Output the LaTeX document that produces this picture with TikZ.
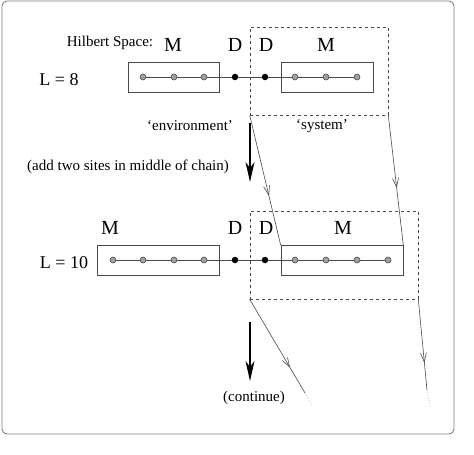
\documentclass[tikz,border=0pt]{standalone}
\usepackage{fontspec}
\setmainfont{Liberation Serif}
\usepackage{tikz}
\usetikzlibrary{arrows.meta,positioning,backgrounds,decorations.markings}
\definecolor{linegray}{HTML}{4A4A4A}
\definecolor{sitegray}{HTML}{A0A0A0}

\begin{document}
\begin{tikzpicture}[x=1pt,y=-1pt,
    box/.style={draw=linegray, line width=0.6pt, minimum width=#1, minimum height=30pt, inner sep=0pt},
    sysbox/.style={draw=linegray, line width=0.6pt, dashed, minimum width=#1, minimum height=88pt, inner sep=0pt},
    site/.style={circle, draw=linegray, line width=0.6pt, fill=sitegray, minimum size=6pt, inner sep=0pt},
    dsite/.style={circle, fill=black, minimum size=6.5pt, inner sep=0pt},
    lbl/.style={font=\fontsize{15}{18}\selectfont, inner sep=0pt},
    big/.style={font=\fontsize{20}{24}\selectfont, inner sep=0pt},
    lval/.style={font=\fontsize{18}{22}\selectfont, inner sep=0pt},
    grow/.style={draw=linegray, line width=0.6pt, decoration={markings, mark=at position #1 with {\arrow{Straight Barb[length=9pt,width=6pt]}}}, postaction={decorate}},
    step arrow/.style={line width=1.6pt, -{Stealth[length=20pt,width=9pt,inset=6pt]}},
    fade/.style={draw=sitegray, line width=0.6pt, dotted}]

  \useasboundingbox (0,0) rectangle (474,455);
  % Frame
  \draw[draw=gray, line width=0.9pt, rounded corners=5pt] (2,1) rectangle (454,434);

  % L = 8
  \node[lbl] (hs) at (110,43) {Hilbert Space:};
  \node[big] (m8l) at (173,45) {M};
  \node[big] (d8l) at (235,45) {D};
  \node[big] (d8r) at (266,45) {D};
  \node[big] (m8r) at (326,45) {M};
  \node[lval] (l8) at (59,80) {L = 8};
  \node[sysbox=138pt] (sys8) at (319,71) {};
  \node[box=91pt] (env8) at (173.5,77) {};
  \node[box=92pt] (blk8) at (327,77) {};
  \node[site] (a1) at (143,77) {}; \node[site] (a2) at (174,77) {}; \node[site] (a3) at (204,77) {};
  \node[dsite] (a4) at (235,77) {}; \node[dsite] (a5) at (265,77) {};
  \node[site] (a6) at (295,77) {}; \node[site] (a7) at (326,77) {}; \node[site] (a8) at (357,77) {};
  \begin{scope}[on background layer]
    \draw[linegray, line width=0.6pt] (a1.center) -- (a8.center);
  \end{scope}
  \node[lbl] (env) at (190,126) {‘environment’};
  \node[lbl] (sys) at (322,126) {‘system’};

  % Step to L = 10
  \coordinate (s1) at (250,123); \coordinate (e1) at (250,182);
  \draw[step arrow] (s1) -- (e1);
  \node[lbl] (add) at (128,167) {(add two sites in middle of chain)};

  % L = 10
  \node[big] (m10l) at (110,228) {M};
  \node[big] (d10l) at (235,228) {D};
  \node[big] (d10r) at (266,228) {D};
  \node[big] (m10r) at (343,228) {M};
  \node[lval] (l10) at (64,263) {L = 10};
  \node[sysbox=168pt] (sys10) at (334,255) {};
  \node[box=122pt] (env10) at (158,260.5) {};
  \node[box=122pt] (blk10) at (342,260.5) {};
  \node[site] (b1) at (113,260) {}; \node[site] (b2) at (143,260) {};
  \node[site] (b3) at (174,260) {}; \node[site] (b4) at (204,260) {};
  \node[dsite] (b5) at (235,260) {}; \node[dsite] (b6) at (265,260) {};
  \node[site] (b7) at (295,260) {}; \node[site] (b8) at (326,260) {};
  \node[site] (b9) at (357,260) {}; \node[site] (b10) at (388,260) {};
  \begin{scope}[on background layer]
    \draw[linegray, line width=0.6pt] (b1.center) -- (b10.center);
  \end{scope}

  % system grows
  \draw[grow=0.62] (sys8.south west) -- (blk10.north west);
  \draw[grow=0.56] (sys8.south east) -- (blk10.north east);

  % continue
  \coordinate (s2) at (250,322); \coordinate (e2) at (250,381);
  \draw[step arrow] (s2) -- (e2);
  \node[lbl] (cont) at (254,398) {(continue)};
  \coordinate (c1) at (305,393); \coordinate (c1e) at (312,406);
  \coordinate (c2) at (427,390); \coordinate (c2e) at (430,406);
  \draw[grow=0.73] (sys10.south west) -- (c1);
  \draw[grow=0.70] (sys10.south east) -- (c2);
  \draw[fade] (c1) -- (c1e);
  \draw[fade] (c2) -- (c2e);
\end{tikzpicture}
\end{document}
